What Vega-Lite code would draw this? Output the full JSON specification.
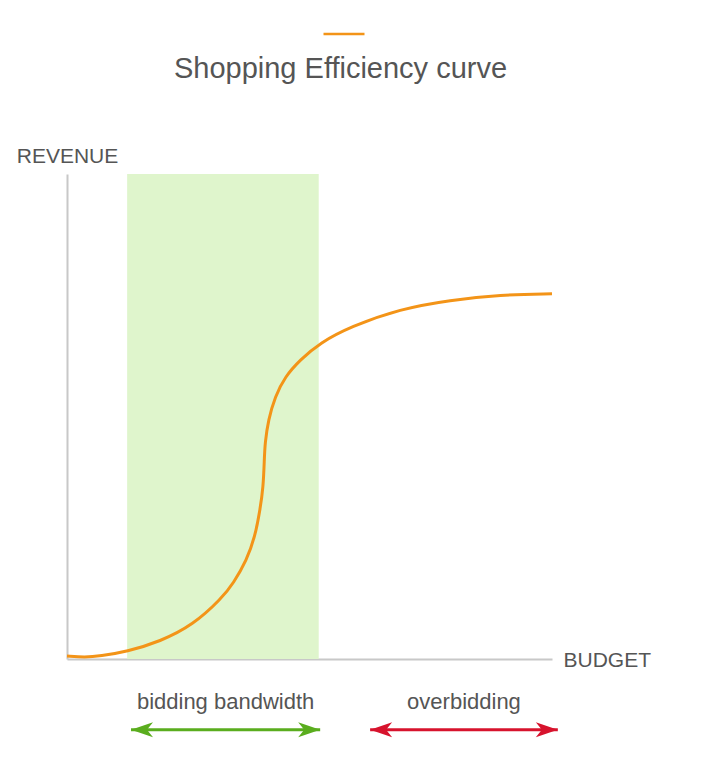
{
  "$schema": "https://vega.github.io/schema/vega-lite/v6.json",
  "width": 485,
  "height": 485,
  "autosize": {"type": "none"},
  "padding": {"left": 67, "top": 174, "right": 168, "bottom": 106},
  "background": "white",
  "title": {
    "text": "Shopping Efficiency curve",
    "font": "Liberation Sans",
    "fontSize": 29,
    "fontWeight": "normal",
    "color": "#555555",
    "anchor": "middle",
    "frame": "group",
    "dx": 31,
    "offset": -72
  },
  "config": {"view": {"stroke": null}, "font": "Liberation Sans"},
  "datasets": {
    "band": [{"name": "bidding bandwidth", "from": 12.4, "to": 51.9}],
    "curve": [
      {"budget": 0, "revenue": 0.6},
      {"budget": 3.7, "revenue": 0.35},
      {"budget": 6.8, "revenue": 0.6},
      {"budget": 12.3, "revenue": 1.5},
      {"budget": 19.2, "revenue": 3.6},
      {"budget": 26.0, "revenue": 7.0},
      {"budget": 31.9, "revenue": 12.5},
      {"budget": 34.3, "revenue": 15.6},
      {"budget": 37.05, "revenue": 20.4},
      {"budget": 38.76, "revenue": 25.2},
      {"budget": 39.79, "revenue": 30.7},
      {"budget": 40.47, "revenue": 35.5},
      {"budget": 40.68, "revenue": 41.0},
      {"budget": 40.82, "revenue": 44.5},
      {"budget": 41.51, "revenue": 49.3},
      {"budget": 42.89, "revenue": 54.1},
      {"budget": 44.95, "revenue": 58.2},
      {"budget": 48.04, "revenue": 61.65},
      {"budget": 52.2, "revenue": 65.2},
      {"budget": 58.4, "revenue": 68.5},
      {"budget": 68.7, "revenue": 72.2},
      {"budget": 79.0, "revenue": 74.0},
      {"budget": 89.3, "revenue": 75.1},
      {"budget": 100, "revenue": 75.3}
    ],
    "arrows": [
      {"label": "bidding bandwidth", "start": 13.2, "end": 52.2},
      {"label": "overbidding", "start": 62.5, "end": 101.2}
    ]
  },
  "layer": [
    {
      "data": {"name": "band"},
      "mark": {"type": "rect", "fill": "#dff5cc"},
      "encoding": {
        "x": {
          "field": "from",
          "type": "quantitative",
          "scale": {"domain": [0, 100], "nice": false, "zero": false},
          "axis": {
            "title": "BUDGET",
            "domainColor": "#c8c8c8",
            "domainWidth": 2,
            "ticks": false,
            "labels": false,
            "grid": false,
            "titleX": 496,
            "titleY": 7,
            "titleAlign": "left",
            "titleBaseline": "alphabetic",
            "titleFont": "Liberation Sans",
            "titleFontSize": 21,
            "titleFontWeight": "normal",
            "titleColor": "#555555"
          }
        },
        "x2": {"field": "to"},
        "y": {
          "datum": 0,
          "type": "quantitative",
          "scale": {"domain": [0, 100], "nice": false, "zero": false},
          "axis": {
            "title": "REVENUE",
            "domainColor": "#c8c8c8",
            "domainWidth": 2,
            "ticks": false,
            "labels": false,
            "grid": false,
            "titleAngle": 0,
            "titleX": 0,
            "titleY": -12,
            "titleAlign": "center",
            "titleBaseline": "alphabetic",
            "titleFont": "Liberation Sans",
            "titleFontSize": 21,
            "titleFontWeight": "normal",
            "titleColor": "#555555"
          }
        },
        "y2": {"datum": 100}
      }
    },
    {
      "data": {"name": "curve"},
      "mark": {"type": "line", "interpolate": "basis", "strokeWidth": 3},
      "encoding": {
        "x": {"field": "budget", "type": "quantitative"},
        "y": {"field": "revenue", "type": "quantitative"},
        "stroke": {
          "datum": "Shopping Efficiency curve",
          "scale": {"range": ["#f39418"]},
          "legend": {
            "orient": "none",
            "legendX": 255,
            "legendY": -162,
            "title": null,
            "symbolType": "stroke",
            "symbolSize": 1681,
            "symbolStrokeWidth": 2.5,
            "labelExpr": "''",
            "labelOffset": 0,
            "padding": 0
          }
        }
      }
    },
    {
      "data": {"name": "arrows"},
      "mark": {"type": "rule", "strokeWidth": 3},
      "encoding": {
        "x": {"field": "start", "type": "quantitative"},
        "x2": {"field": "end"},
        "y": {"datum": -14.6, "type": "quantitative"},
        "color": {
          "field": "label",
          "type": "nominal",
          "scale": {"domain": ["bidding bandwidth", "overbidding"], "range": ["#5aad1e", "#d7132d"]},
          "legend": null
        }
      }
    },
    {
      "data": {"name": "arrows"},
      "mark": {"type": "point", "filled": true, "opacity": 1, "size": 484, "strokeWidth": 0, "shape": "M0,0 L2,-0.68 L1.45,0 L2,0.68 Z"},
      "encoding": {
        "x": {"field": "start", "type": "quantitative"},
        "y": {"datum": -14.6, "type": "quantitative"},
        "color": {"field": "label", "type": "nominal", "legend": null}
      }
    },
    {
      "data": {"name": "arrows"},
      "mark": {"type": "point", "filled": true, "opacity": 1, "size": 484, "strokeWidth": 0, "shape": "M0,0 L-2,-0.68 L-1.45,0 L-2,0.68 Z"},
      "encoding": {
        "x": {"field": "end", "type": "quantitative"},
        "y": {"datum": -14.6, "type": "quantitative"},
        "color": {"field": "label", "type": "nominal", "legend": null}
      }
    },
    {
      "data": {"name": "arrows"},
      "transform": [{"fold": ["start", "end"], "as": ["side", "pos"]}],
      "mark": {"type": "text", "font": "Liberation Sans", "fontSize": 22, "color": "#555555", "align": "center", "baseline": "alphabetic"},
      "encoding": {
        "x": {"aggregate": "mean", "field": "pos", "type": "quantitative"},
        "y": {"datum": -10.3, "type": "quantitative"},
        "text": {"field": "label", "type": "nominal"}
      }
    }
  ]
}
